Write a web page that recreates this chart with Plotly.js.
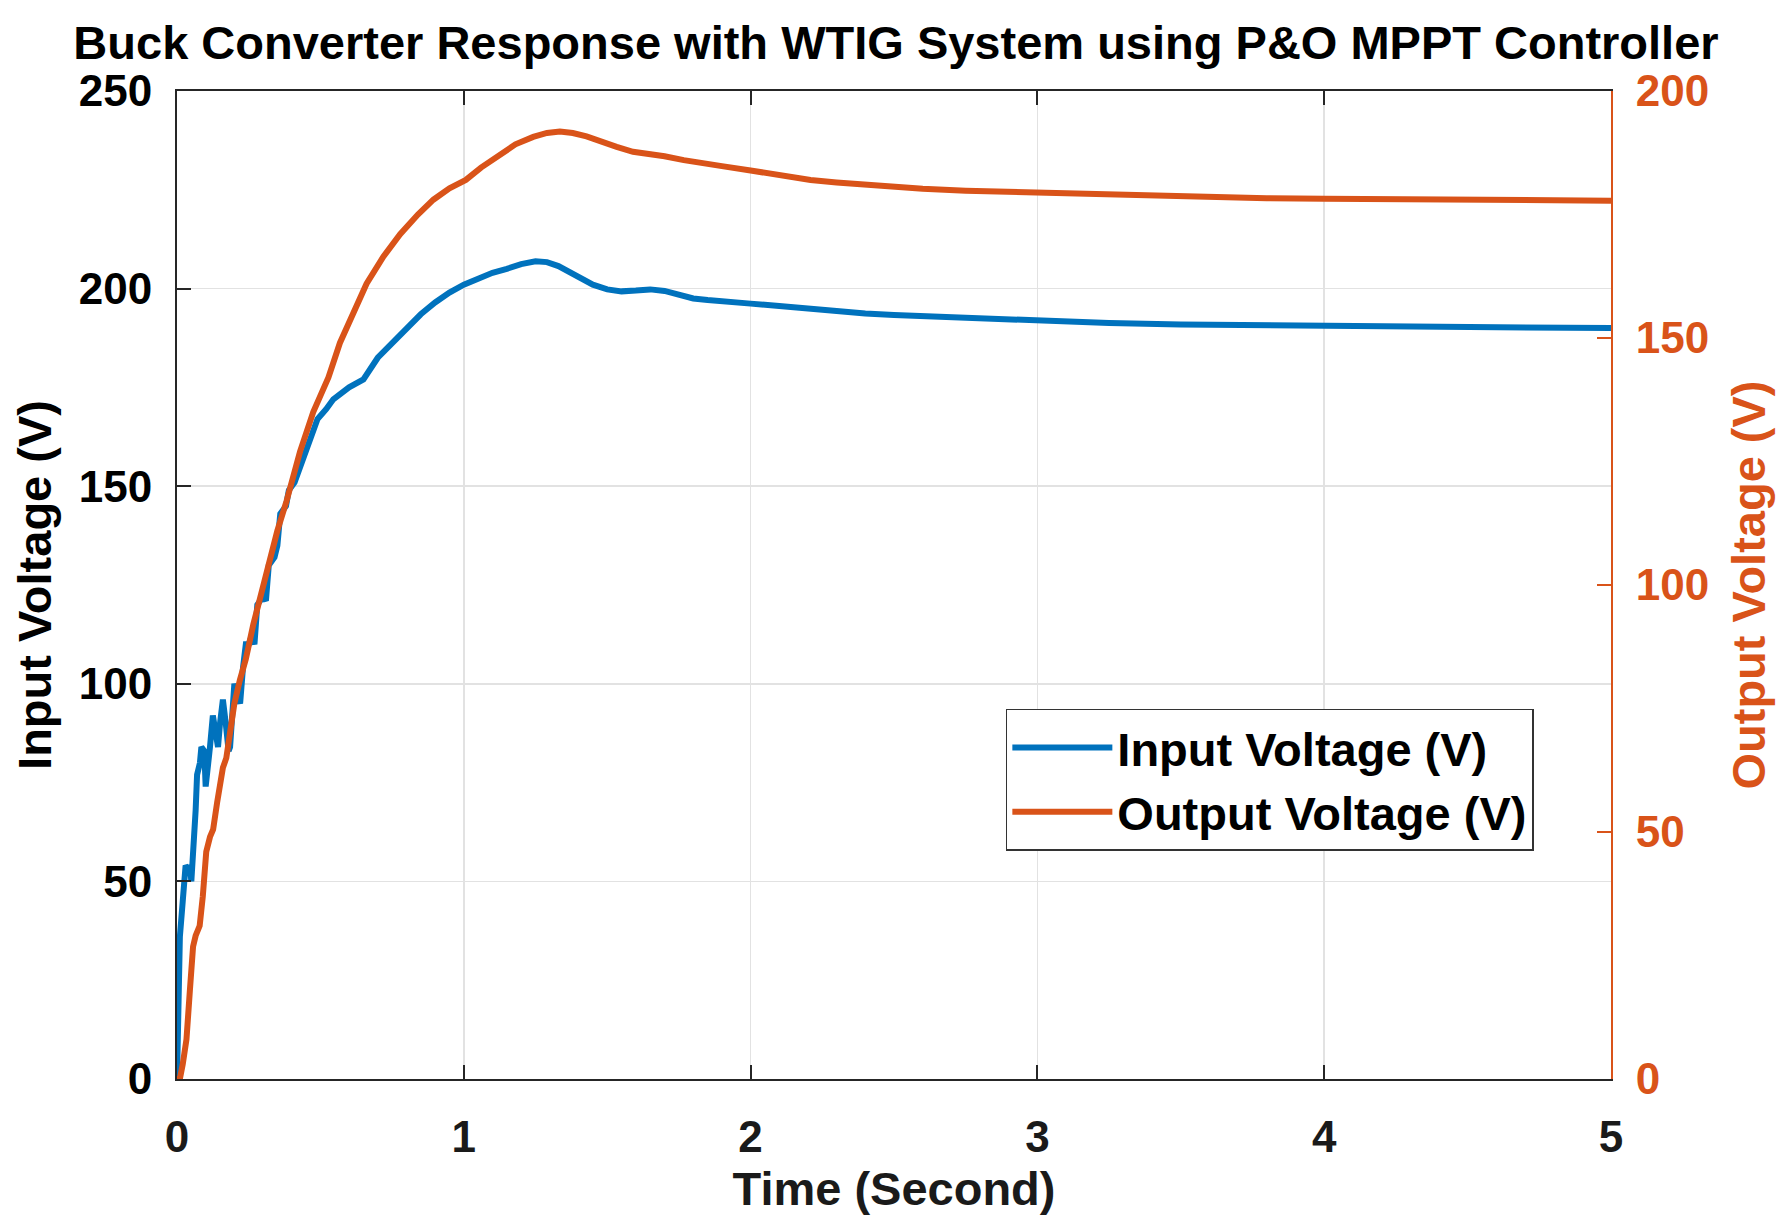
<!DOCTYPE html>
<html>
<head>
<meta charset="utf-8">
<title>Buck Converter Response</title>
<script src="https://cdn.plot.ly/plotly-3.0.1.min.js"></script>
<style>
  html, body { margin: 0; padding: 0; background: #ffffff; }
  #chart { width: 1792px; height: 1215px; }
</style>
</head>
<body>
<div id="chart"></div>
<script>
// Input (generator-side) voltage of the buck converter, left axis
const tIn = [
  0, 0.005, 0.01, 0.02, 0.027, 0.03, 0.04, 0.045, 0.05, 0.055,
  0.06, 0.065, 0.07, 0.08, 0.085, 0.095, 0.1, 0.108, 0.115, 0.125,
  0.135, 0.143, 0.15, 0.16, 0.17, 0.18, 0.185, 0.19, 0.2, 0.21,
  0.22, 0.23, 0.24, 0.25, 0.26, 0.27, 0.28, 0.3, 0.31, 0.32,
  0.34, 0.35, 0.36, 0.38, 0.39, 0.41, 0.43, 0.45, 0.465, 0.48,
  0.49, 0.52, 0.545, 0.6, 0.65, 0.7, 0.74, 0.78, 0.85, 0.9,
  0.95, 1.0, 1.05, 1.1, 1.15, 1.2, 1.25, 1.29, 1.33, 1.36,
  1.4, 1.45, 1.5, 1.55, 1.6, 1.65, 1.7, 1.75, 1.8, 1.85,
  1.9, 2.0, 2.1, 2.2, 2.3, 2.4, 2.5, 2.6, 2.75, 3.0,
  3.25, 3.5, 3.75, 4.0, 4.25, 4.5, 4.75, 5.0
];
const vIn = [
  0, 22, 36, 45, 50, 54, 53, 54, 50, 55,
  60, 68, 77, 80, 84, 83, 74, 78, 84, 92,
  86, 84, 90, 96, 90, 83, 84, 92, 100, 97,
  95, 104, 110, 110, 112, 110, 120, 122, 121, 130,
  132, 135, 143, 145, 149, 151, 155, 158, 162, 164,
  167, 169.5, 172, 175, 177, 182.5, 185.5, 188.5, 193.5, 196.5,
  199, 201, 202.5, 204, 205, 206.2, 206.9, 206.7, 205.7, 204.5,
  203, 201, 199.8, 199.3, 199.5, 199.8, 199.4, 198.5, 197.5, 197.1,
  196.9, 196.2, 195.6, 194.9, 194.1, 193.7, 193.3, 193, 192.5, 192,
  191.3, 190.9, 190.7, 190.5, 190.4, 190.2, 190.1, 190
];

// Output (load-side) voltage, right axis
const tOut = [
  0, 0.01, 0.02, 0.033, 0.045, 0.056, 0.065, 0.079, 0.09, 0.102,
  0.115, 0.126, 0.14, 0.149, 0.16, 0.172, 0.19, 0.2, 0.219, 0.24,
  0.266, 0.295, 0.324, 0.35, 0.382, 0.41, 0.429, 0.475, 0.528, 0.568,
  0.62, 0.661, 0.72, 0.778, 0.84, 0.894, 0.95, 1.007, 1.06, 1.126,
  1.18, 1.242, 1.29, 1.335, 1.38, 1.428, 1.48, 1.533, 1.59, 1.649,
  1.7, 1.767, 1.824, 1.9, 2.0, 2.1, 2.209, 2.3, 2.45, 2.6,
  2.75, 3.0, 3.25, 3.555, 3.8, 4.0, 4.25, 4.5, 4.75, 5.0
];
const vOut = [
  0, 0, 3, 8, 18, 26.8, 29, 31, 37, 46,
  49, 50.5, 56, 60, 63, 65, 72.6, 76, 80.7, 85,
  92, 99, 105.5, 111, 117, 123, 127, 135, 142, 149,
  156, 161, 166.5, 171, 175, 178, 180.3, 182, 184.5, 187.2,
  189.2, 190.7, 191.5, 191.8, 191.5, 190.8, 189.7, 188.7, 187.7, 187.3,
  186.8, 186, 185.6, 184.8, 183.9, 183, 182, 181.5, 180.8, 180.2,
  179.8, 179.4, 178.9, 178.5, 178.3, 178.2, 178.1, 178, 177.9, 177.8
];

const xTicks = [0, 1, 2, 3, 4, 5];
const yLeftTicks = [0, 50, 100, 150, 200, 250];
const yRightTicks = [0, 50, 100, 150, 200];

const BLUE = '#0072BD';
const ORANGE = '#D95319';
const INK = '#111111';
const FONT = 'Liberation Sans, Arial, Helvetica, sans-serif';

const traces = [
  {
    x: tIn, y: vIn, type: 'scatter', mode: 'lines',
    name: 'Input Voltage (V)', yaxis: 'y',
    line: { color: BLUE, width: 6 }
  },
  {
    x: tOut, y: vOut, type: 'scatter', mode: 'lines',
    name: 'Output Voltage (V)', yaxis: 'y2',
    line: { color: ORANGE, width: 6 }
  }
];

const layout = {
  width: 1792, height: 1215,
  paper_bgcolor: '#ffffff', plot_bgcolor: '#ffffff',
  margin: { l: 177, r: 181, t: 91, b: 136 },
  font: { family: FONT, color: INK },
  title: {
    text: 'Buck Converter Response with WTIG System using P&O MPPT Controller',
    font: { family: FONT, size: 47, weight: 'bold', color: '#000' },
    x: 0.5, xref: 'container', xanchor: 'center',
    y: 1 - 43 / 1215, yref: 'container', yanchor: 'middle'
  },
  xaxis: {
    range: [0, 5], tickvals: xTicks, ticktext: xTicks.map(String),
    ticks: 'inside', ticklen: 14, tickwidth: 2, tickcolor: '#262626',
    showline: true, linecolor: '#262626', linewidth: 2, mirror: 'ticks',
    showgrid: true, gridcolor: '#e2e2e2', gridwidth: 1.5, zeroline: false,
    tickfont: { family: FONT, size: 44, weight: 'bold', color: '#1a1a1a' },
    ticklabelstandoff: 18,
    title: {
      text: 'Time (Second)', standoff: 14,
      font: { family: FONT, size: 47, weight: 'bold', color: '#1a1a1a' }
    }
  },
  yaxis: {
    range: [0, 250], tickvals: yLeftTicks, ticktext: yLeftTicks.map(String),
    ticks: 'inside', ticklen: 14, tickwidth: 2, tickcolor: '#262626',
    showline: true, linecolor: '#262626', linewidth: 2, mirror: false,
    showgrid: true, gridcolor: '#e2e2e2', gridwidth: 1.5, zeroline: false,
    tickfont: { family: FONT, size: 44, weight: 'bold', color: '#000' },
    ticklabelstandoff: 14,
    title: {
      text: 'Input Voltage (V)', standoff: 12,
      font: { family: FONT, size: 47, weight: 'bold', color: '#000' }
    }
  },
  yaxis2: {
    range: [0, 200], tickvals: yRightTicks, ticktext: yRightTicks.map(String),
    overlaying: 'y', side: 'right', anchor: 'x',
    ticks: 'inside', ticklen: 14, tickwidth: 2, tickcolor: ORANGE,
    showline: true, linecolor: ORANGE, linewidth: 2,
    showgrid: false, zeroline: false,
    tickfont: { family: FONT, size: 44, weight: 'bold', color: ORANGE },
    ticklabelstandoff: 14,
    title: {
      text: 'Output Voltage (V)', standoff: 24,
      font: { family: FONT, size: 47, weight: 'bold', color: ORANGE }
    }
  },
  legend: {
    x: 0.578, y: 0.3745, xanchor: 'left', yanchor: 'top',
    bgcolor: '#ffffff', bordercolor: '#333333', borderwidth: 1.5,
    font: { family: FONT, size: 47, weight: 'bold', color: '#000' },
    itemwidth: 100, tracegroupgap: 0
  },
  showlegend: true
};

Plotly.newPlot('chart', traces, layout, { displayModeBar: false, staticPlot: true });
</script>
</body>
</html>
